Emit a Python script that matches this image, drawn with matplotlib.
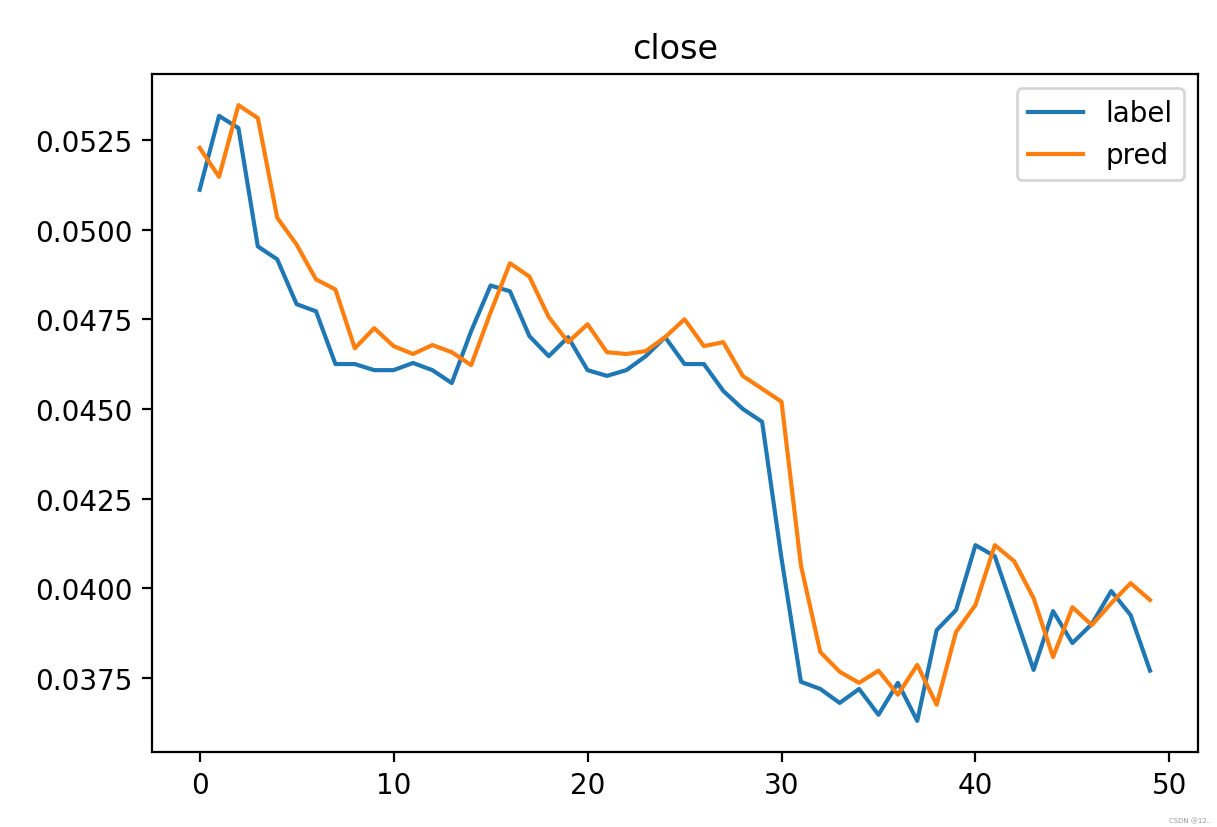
import matplotlib
matplotlib.use("Agg")
import matplotlib.pyplot as plt

label = [0.05111,0.05317,0.05283,0.04953,0.04917,0.04792,0.04772,0.04625,0.04625,0.04608,
         0.04608,0.04628,0.04608,0.04572,0.04717,0.04844,0.04828,0.04703,0.04647,0.04700,
         0.04608,0.04592,0.04608,0.04647,0.04700,0.04625,0.04625,0.04550,0.04500,0.04464,
         0.04083,0.03739,0.03719,0.03680,0.03719,0.03647,0.03736,0.03630,0.03883,0.03939,
         0.04120,0.04089,0.03931,0.03772,0.03936,0.03847,0.03900,0.03992,0.03925,0.03770]
pred = [0.05228,0.05147,0.05347,0.05311,0.05033,0.04958,0.04861,0.04833,0.04669,0.04725,
        0.04675,0.04653,0.04678,0.04658,0.04622,0.04769,0.04906,0.04869,0.04756,0.04686,
        0.04736,0.04658,0.04653,0.04661,0.04700,0.04750,0.04675,0.04686,0.04592,0.04556,
        0.04520,0.04064,0.03822,0.03767,0.03736,0.03770,0.03703,0.03786,0.03675,0.03878,
        0.03953,0.04120,0.04075,0.03972,0.03808,0.03947,0.03897,0.03958,0.04014,0.03967]

fig = plt.figure(figsize=(6.085, 4.14), dpi=200)
ax = fig.add_axes([0.125, 0.091, 0.859, 0.818])
ax.plot(label, label="label")
ax.plot(pred, label="pred")
ax.set_title("close")
ax.legend(loc="upper right")
fig.text(0.995, 0.005, "CSDN @12..", fontsize=2.5, color="#999999", ha="right", va="bottom")
fig.savefig("out.png", dpi=200)
